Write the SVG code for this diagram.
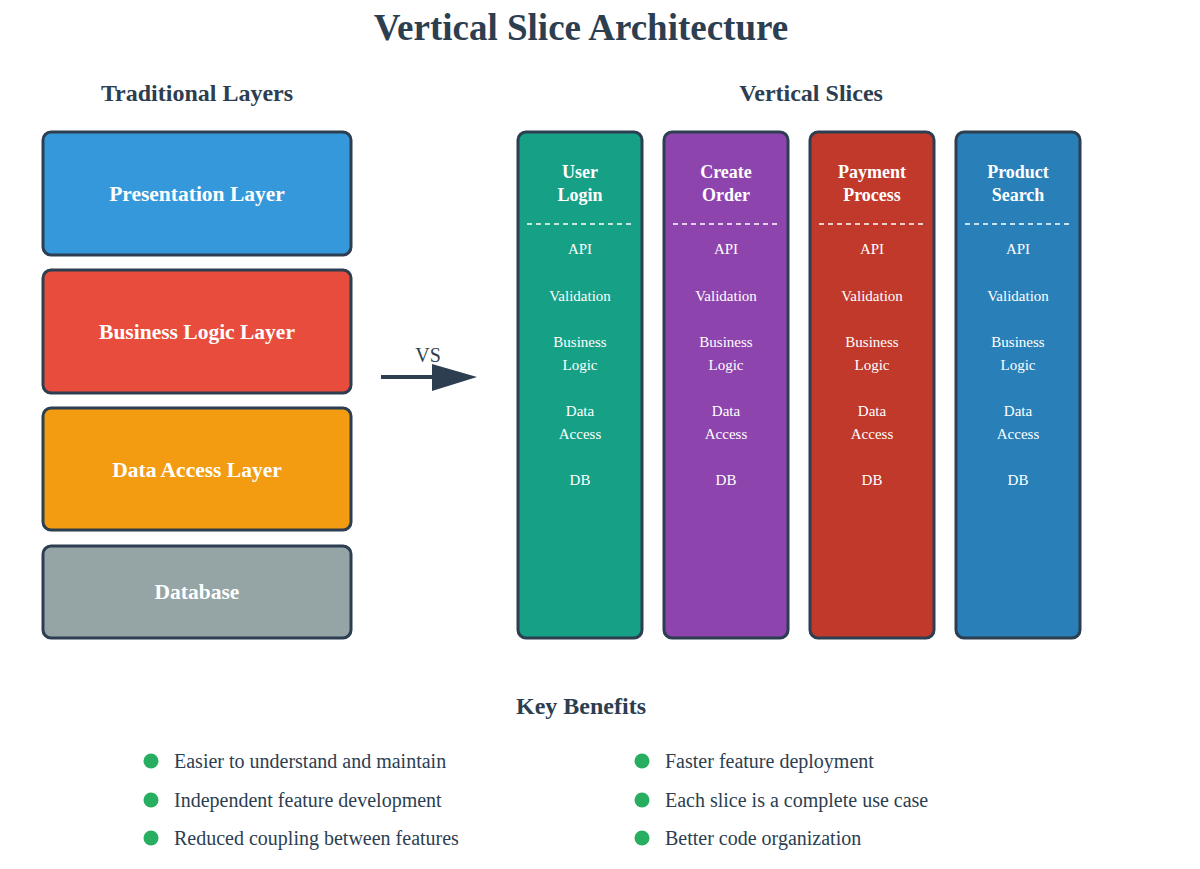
<svg xmlns="http://www.w3.org/2000/svg" width="1200" height="869" viewBox="0 0 1200 869">
<defs>
<style>
text{font-family:"Liberation Serif","Times New Roman",serif;}
.title{font-size:37px;font-weight:bold;fill:#2c3e50;text-anchor:middle;}
.h2{font-size:24px;font-weight:bold;fill:#2c3e50;text-anchor:middle;}
.layer{stroke:#2c3e50;stroke-width:3;}
.ltxt{font-size:21.5px;font-weight:bold;fill:#fff;text-anchor:middle;}
.stitle{font-size:18px;font-weight:bold;fill:#fff;text-anchor:middle;}
.sitem{font-size:15px;fill:#fff;text-anchor:middle;}
.dash{stroke:#fff;stroke-width:1.5;stroke-dasharray:5,4;}
.dot{fill:#27ae60;}
.btxt{font-size:20px;fill:#2c3e50;}
</style>
</defs>
<rect width="1200" height="869" fill="#fff"/>
<text class="title" x="581" y="40">Vertical Slice Architecture</text>
<text class="h2" x="197" y="101">Traditional Layers</text>
<text class="h2" x="811" y="101">Vertical Slices</text>

<g id="presentation-layer"><rect class="layer" x="43" y="132" width="308" height="123" rx="8" fill="#3498db"/><text class="ltxt" x="197" y="201">Presentation Layer</text></g>
<g id="business-layer"><rect class="layer" x="43" y="270" width="308" height="123" rx="8" fill="#e74c3c"/><text class="ltxt" x="197" y="339">Business Logic Layer</text></g>
<g id="data-access-layer"><rect class="layer" x="43" y="408" width="308" height="122" rx="8" fill="#f39c12"/><text class="ltxt" x="197" y="477">Data Access Layer</text></g>
<g id="database-layer"><rect class="layer" x="43" y="546" width="308" height="92" rx="8" fill="#95a5a6"/><text class="ltxt" x="197" y="599">Database</text></g>

<g id="connectors">
<line x1="381" y1="377" x2="436" y2="377" stroke="#2c3e50" stroke-width="4"/>
<polygon points="432,364 477,377 432,391" fill="#2c3e50"/>
<text x="428" y="362" font-size="20" fill="#2c3e50" text-anchor="middle">VS</text>
</g>

<g id="slice-user-login">
<rect class="layer" x="518" y="132" width="124" height="506" rx="8" fill="#16a085"/>
<text class="stitle" x="580" y="178">User</text><text class="stitle" x="580" y="201">Login</text>
<line class="dash" x1="527" y1="224" x2="633" y2="224"/>
<text class="sitem" x="580" y="254">API</text><text class="sitem" x="580" y="301">Validation</text>
<text class="sitem" x="580" y="347">Business</text><text class="sitem" x="580" y="370">Logic</text>
<text class="sitem" x="580" y="416">Data</text><text class="sitem" x="580" y="439">Access</text>
<text class="sitem" x="580" y="485">DB</text>
</g>
<g id="slice-create-order">
<rect class="layer" x="664" y="132" width="124" height="506" rx="8" fill="#8e44ad"/>
<text class="stitle" x="726" y="178">Create</text><text class="stitle" x="726" y="201">Order</text>
<line class="dash" x1="673" y1="224" x2="779" y2="224"/>
<text class="sitem" x="726" y="254">API</text><text class="sitem" x="726" y="301">Validation</text>
<text class="sitem" x="726" y="347">Business</text><text class="sitem" x="726" y="370">Logic</text>
<text class="sitem" x="726" y="416">Data</text><text class="sitem" x="726" y="439">Access</text>
<text class="sitem" x="726" y="485">DB</text>
</g>
<g id="slice-payment-process">
<rect class="layer" x="810" y="132" width="124" height="506" rx="8" fill="#c0392b"/>
<text class="stitle" x="872" y="178">Payment</text><text class="stitle" x="872" y="201">Process</text>
<line class="dash" x1="819" y1="224" x2="925" y2="224"/>
<text class="sitem" x="872" y="254">API</text><text class="sitem" x="872" y="301">Validation</text>
<text class="sitem" x="872" y="347">Business</text><text class="sitem" x="872" y="370">Logic</text>
<text class="sitem" x="872" y="416">Data</text><text class="sitem" x="872" y="439">Access</text>
<text class="sitem" x="872" y="485">DB</text>
</g>
<g id="slice-product-search">
<rect class="layer" x="956" y="132" width="124" height="506" rx="8" fill="#2980b9"/>
<text class="stitle" x="1018" y="178">Product</text><text class="stitle" x="1018" y="201">Search</text>
<line class="dash" x1="965" y1="224" x2="1071" y2="224"/>
<text class="sitem" x="1018" y="254">API</text><text class="sitem" x="1018" y="301">Validation</text>
<text class="sitem" x="1018" y="347">Business</text><text class="sitem" x="1018" y="370">Logic</text>
<text class="sitem" x="1018" y="416">Data</text><text class="sitem" x="1018" y="439">Access</text>
<text class="sitem" x="1018" y="485">DB</text>
</g>

<g id="key-benefits">
<text class="h2" x="581" y="714">Key Benefits</text>
<circle class="dot" cx="151" cy="761" r="7.5"/><text class="btxt" x="174" y="768">Easier to understand and maintain</text>
<circle class="dot" cx="151" cy="800" r="7.5"/><text class="btxt" x="174" y="807">Independent feature development</text>
<circle class="dot" cx="151" cy="838" r="7.5"/><text class="btxt" x="174" y="845">Reduced coupling between features</text>
<circle class="dot" cx="642" cy="761" r="7.5"/><text class="btxt" x="665" y="768">Faster feature deployment</text>
<circle class="dot" cx="642" cy="800" r="7.5"/><text class="btxt" x="665" y="807">Each slice is a complete use case</text>
<circle class="dot" cx="642" cy="838" r="7.5"/><text class="btxt" x="665" y="845">Better code organization</text>
</g>
</svg>
